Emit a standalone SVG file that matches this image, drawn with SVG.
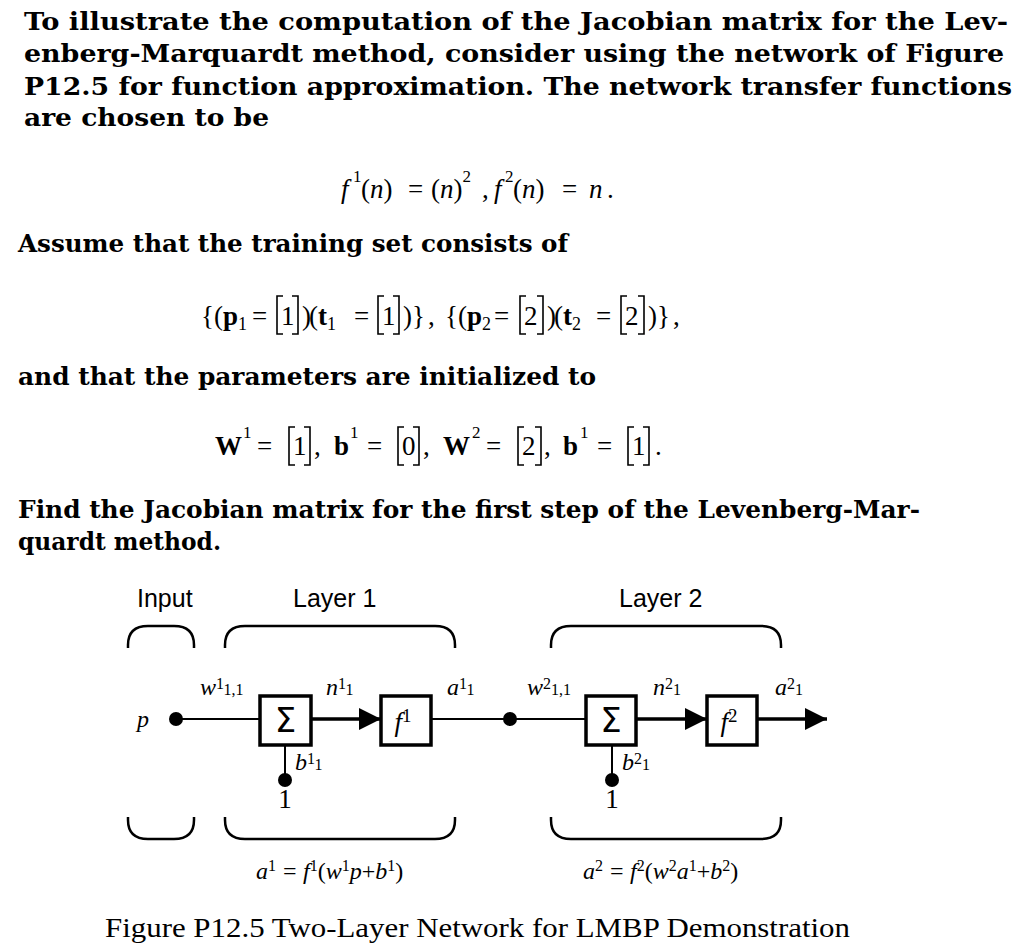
<svg xmlns="http://www.w3.org/2000/svg" width="1024" height="945" viewBox="0 0 1024 945">
<style>
.b{font-family:"DejaVu Serif",serif;font-weight:bold;font-size:24px;fill:#000}
.m{font-family:"Liberation Serif",serif;font-size:27px;fill:#000}
.i{font-style:italic}
.s{font-family:"Liberation Sans",Arial,sans-serif;font-size:25px;fill:#000}
.d{font-family:"Liberation Serif",serif;font-size:24px;font-style:italic;fill:#000}
.g{font-family:"DejaVu Sans",sans-serif;font-size:34px;fill:#000}
.br{fill:none;stroke:#000;stroke-width:1.6}
.ln{fill:none;stroke:#000;stroke-width:2}
.bx{fill:#fff;stroke:#000;stroke-width:3.5}
.bk{fill:none;stroke:#000;stroke-width:2.5}
.u{font-size:16px;font-style:normal}
</style>
<defs>
<marker id="ah" viewBox="0 0 10 10" refX="10" refY="5" markerWidth="22" markerHeight="22" markerUnits="userSpaceOnUse" orient="auto"><path d="M0,0 L10,5 L0,10 Z" fill="#000"/></marker>
</defs>
<rect width="1024" height="945" fill="#fff"/>
<g id="text">
<text class="b" x="24" y="30" textLength="984" lengthAdjust="spacingAndGlyphs">To illustrate the computation of the Jacobian matrix for the Lev-</text>
<text class="b" x="24" y="62" textLength="980" lengthAdjust="spacingAndGlyphs">enberg-Marquardt method, consider using the network of Figure</text>
<text class="b" x="24" y="95" textLength="988" lengthAdjust="spacingAndGlyphs">P12.5 for function approximation. The network transfer functions</text>
<text class="b" x="24" y="126" textLength="245" lengthAdjust="spacingAndGlyphs">are chosen to be</text>
<text class="b" x="18" y="252" textLength="550" lengthAdjust="spacingAndGlyphs">Assume that the training set consists of</text>
<text class="b" x="18" y="385" textLength="578" lengthAdjust="spacingAndGlyphs">and that the parameters are initialized to</text>
<text class="b" x="18" y="518" textLength="902" lengthAdjust="spacingAndGlyphs">Find the Jacobian matrix for the first step of the Levenberg-Mar-</text>
<text class="b" x="18" y="550" textLength="203" lengthAdjust="spacingAndGlyphs">quardt method.</text>
</g>
<g id="equations">
<text class="m" y="198"><tspan x="341" class="i">f</tspan><tspan x="353" y="182" font-size="17">1</tspan><tspan x="361" y="198">(</tspan><tspan class="i">n</tspan><tspan>)</tspan><tspan x="408">=</tspan><tspan x="431">(</tspan><tspan class="i">n</tspan><tspan>)</tspan><tspan y="182" font-size="17">2</tspan><tspan x="482" y="198">,</tspan><tspan x="494" class="i">f</tspan><tspan x="505" y="182" font-size="17">2</tspan><tspan x="513" y="198">(</tspan><tspan class="i">n</tspan><tspan>)</tspan><tspan x="562">=</tspan><tspan x="589" class="i">n</tspan><tspan x="607">.</tspan></text>
<text class="m" y="325"><tspan x="201">{(</tspan><tspan font-weight="bold">p</tspan><tspan font-size="18" dy="5">1</tspan><tspan x="252" dy="-5">=</tspan><tspan x="281">1</tspan><tspan x="302">)</tspan><tspan x="309">(</tspan><tspan font-weight="bold">t</tspan><tspan font-size="18" dy="5">1</tspan><tspan x="354" dy="-5">=</tspan><tspan x="382">1</tspan><tspan x="403">)}</tspan><tspan x="428">,</tspan><tspan x="445">{(</tspan><tspan font-weight="bold">p</tspan><tspan font-size="18" dy="5">2</tspan><tspan x="494" dy="-5">=</tspan><tspan x="524">2</tspan><tspan x="547">)</tspan><tspan x="554">(</tspan><tspan font-weight="bold">t</tspan><tspan font-size="18" dy="5">2</tspan><tspan x="596" dy="-5">=</tspan><tspan x="625">2</tspan><tspan x="648">)}</tspan><tspan x="673">,</tspan></text>
<text class="m" y="455"><tspan x="215" font-weight="bold">W</tspan><tspan x="243" font-size="17" dy="-17">1</tspan><tspan x="257" dy="17">=</tspan><tspan x="293">1</tspan><tspan x="314">,</tspan><tspan x="334" font-weight="bold">b</tspan><tspan x="350" font-size="17" dy="-17">1</tspan><tspan x="367" dy="17">=</tspan><tspan x="402">0</tspan><tspan x="423">,</tspan><tspan x="443" font-weight="bold">W</tspan><tspan x="472" font-size="17" dy="-17">2</tspan><tspan x="486" dy="17">=</tspan><tspan x="522">2</tspan><tspan x="544">,</tspan><tspan x="563" font-weight="bold">b</tspan><tspan x="580" font-size="17" dy="-17">1</tspan><tspan x="597" dy="17">=</tspan><tspan x="632">1</tspan><tspan x="655">.</tspan></text>
</g>
<g id="matrices">
<path class="br" d="M283,296 h-6 v38 h6 M292,296 h6 v38 h-6"/>
<path class="br" d="M384,296 h-6 v38 h6 M393,296 h6 v38 h-6"/>
<path class="br" d="M526,296 h-6 v38 h6 M537,296 h6 v38 h-6"/>
<path class="br" d="M627,296 h-6 v38 h6 M638,296 h6 v38 h-6"/>
<path class="br" d="M295,427 h-6 v38 h6 M304,427 h6 v38 h-6"/>
<path class="br" d="M404,427 h-6 v38 h6 M413,427 h6 v38 h-6"/>
<path class="br" d="M524,427 h-6 v38 h6 M535,427 h6 v38 h-6"/>
<path class="br" d="M634,427 h-6 v38 h6 M643,427 h6 v38 h-6"/>
</g>
<g id="brackets">
<path class="bk" d="M128,648 v-3 q0,-19 20,-19 h26 q20,0 20,19 v3"/>
<path class="bk" d="M225,648 v-3 q0,-19 20,-19 h190 q20,0 20,19 v3"/>
<path class="bk" d="M551,648 v-3 q0,-19 20,-19 h190 q20,0 20,19 v3"/>
<path class="bk" d="M128,817 v3 q0,19 20,19 h26 q20,0 20,-19 v-3"/>
<path class="bk" d="M225,817 v3 q0,19 20,19 h190 q20,0 20,-19 v-3"/>
<path class="bk" d="M551,817 v3 q0,19 20,19 h190 q20,0 20,-19 v-3"/>
</g>
<g id="connectors">
<line class="ln" x1="176" y1="719" x2="260" y2="719"/>
<line x1="311" y1="719" x2="381" y2="719" stroke="#000" stroke-width="3.5" marker-end="url(#ah)"/>
<line class="ln" x1="431" y1="719" x2="586" y2="719"/>
<line x1="636" y1="719" x2="707" y2="719" stroke="#000" stroke-width="3.5" marker-end="url(#ah)"/>
<line x1="757" y1="719" x2="827" y2="719" stroke="#000" stroke-width="3.5" marker-end="url(#ah)"/>
<line class="ln" x1="285" y1="745" x2="285" y2="780"/>
<line class="ln" x1="612" y1="745" x2="612" y2="780"/>
</g>
<g id="dots">
<circle cx="176" cy="719" r="7"/>
<circle cx="510" cy="719" r="7"/>
<circle cx="285" cy="780" r="7"/>
<circle cx="612" cy="780" r="7"/>
</g>
<g id="sum1"><rect class="bx" x="260" y="696" width="51" height="49"/><text class="g" x="285.5" y="732" text-anchor="middle">Σ</text></g>
<g id="f1"><rect class="bx" x="381" y="696" width="50" height="49"/><text class="m i" x="403" y="731" text-anchor="middle" font-size="28">f<tspan font-style="normal" font-size="19" dy="-9">1</tspan></text></g>
<g id="sum2"><rect class="bx" x="586" y="696" width="50" height="49"/><text class="g" x="611" y="732" text-anchor="middle">Σ</text></g>
<g id="f2"><rect class="bx" x="707" y="696" width="50" height="49"/><text class="m i" x="729" y="731" text-anchor="middle" font-size="28">f<tspan font-style="normal" font-size="19" dy="-9">2</tspan></text></g>
<g id="labels">
<text class="s" x="137" y="607">Input</text>
<text class="s" x="293" y="607">Layer 1</text>
<text class="s" x="619" y="607">Layer 2</text>
<text class="d" x="137" y="727" font-size="25">p</text>
<text class="d" x="200" y="695">w<tspan class="u" dy="-6">1</tspan><tspan class="u" dy="6">1,1</tspan></text>
<text class="d" x="326" y="695">n<tspan class="u" dy="-6">1</tspan><tspan class="u" dy="6">1</tspan></text>
<text class="d" x="447" y="695">a<tspan class="u" dy="-6">1</tspan><tspan class="u" dy="6">1</tspan></text>
<text class="d" x="527" y="695">w<tspan class="u" dy="-6">2</tspan><tspan class="u" dy="6">1,1</tspan></text>
<text class="d" x="653" y="695">n<tspan class="u" dy="-6">2</tspan><tspan class="u" dy="6">1</tspan></text>
<text class="d" x="775" y="695">a<tspan class="u" dy="-6">2</tspan><tspan class="u" dy="6">1</tspan></text>
<text class="d" x="295" y="770">b<tspan class="u" dy="-6">1</tspan><tspan class="u" dy="6">1</tspan></text>
<text class="d" x="622" y="770">b<tspan class="u" dy="-6">2</tspan><tspan class="u" dy="6">1</tspan></text>
<text class="m" x="285" y="808" text-anchor="middle" font-size="25">1</text>
<text class="m" x="612" y="808" text-anchor="middle" font-size="25">1</text>
<text class="d" y="879" font-size="25"><tspan x="256">a</tspan><tspan class="u" dy="-8">1</tspan><tspan x="283" font-style="normal" dy="8">=</tspan><tspan x="303">f</tspan><tspan class="u" dy="-8">1</tspan><tspan font-style="normal" dy="8">(</tspan><tspan>w</tspan><tspan class="u" dy="-8">1</tspan><tspan dy="8">p</tspan><tspan font-style="normal">+</tspan><tspan>b</tspan><tspan class="u" dy="-8">1</tspan><tspan font-style="normal" dy="8">)</tspan></text>
<text class="d" y="879" font-size="25"><tspan x="583">a</tspan><tspan class="u" dy="-8">2</tspan><tspan x="610" font-style="normal" dy="8">=</tspan><tspan x="630">f</tspan><tspan class="u" dy="-8">2</tspan><tspan font-style="normal" dy="8">(</tspan><tspan>w</tspan><tspan class="u" dy="-8">2</tspan><tspan dy="8">a</tspan><tspan class="u" dy="-8">1</tspan><tspan font-style="normal" dy="8">+</tspan><tspan>b</tspan><tspan class="u" dy="-8">2</tspan><tspan font-style="normal" dy="8">)</tspan></text>
<text class="m" x="105" y="937" font-size="24" textLength="745" lengthAdjust="spacingAndGlyphs">Figure P12.5  Two-Layer Network for LMBP Demonstration</text>
</g>
</svg>
